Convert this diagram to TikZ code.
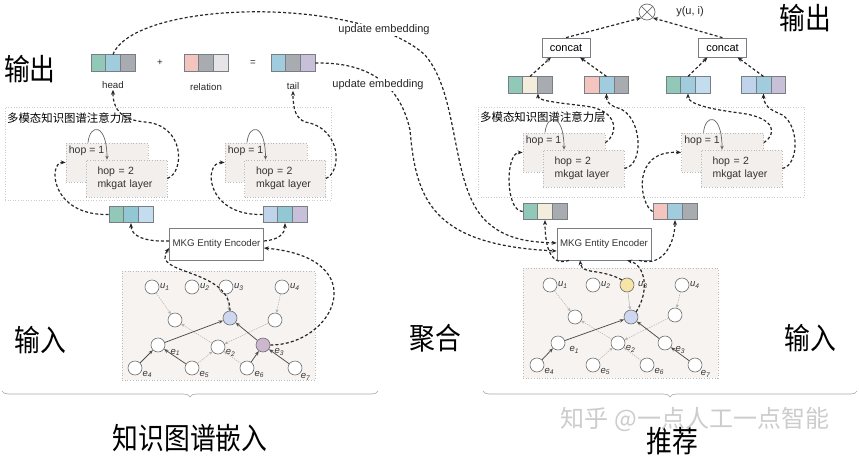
\documentclass[tikz,border=0pt]{standalone}
\usepackage{fontspec}
\setmainfont{Liberation Sans}
\newfontfamily\cjk{Noto Sans CJK SC}
\usepackage{tikz}
\usetikzlibrary{arrows.meta,positioning,decorations.pathreplacing}
\tikzset{every node/.append style={align=center}}
\definecolor{cellline}{RGB}{120,126,132}
\definecolor{nodeline}{RGB}{110,110,110}
\definecolor{tealcell}{RGB}{146,200,184}
\definecolor{bluecell}{RGB}{160,204,222}
\definecolor{graycell}{RGB}{168,171,175}
\definecolor{pinkcell}{RGB}{244,197,191}
\definecolor{lightcell}{RGB}{231,228,232}
\definecolor{lavcell}{RGB}{200,192,216}
\definecolor{tealblue}{RGB}{146,199,212}
\definecolor{paleblue}{RGB}{196,221,238}
\definecolor{bluecell2}{RGB}{191,212,235}
\definecolor{creamcell}{RGB}{245,237,219}
\definecolor{hopfill}{RGB}{243,239,236}
\definecolor{gboxfill}{RGB}{247,243,240}
\definecolor{bluenode}{RGB}{205,215,239}
\definecolor{purplenode}{RGB}{203,184,207}
\definecolor{yellownode}{RGB}{247,228,166}
\tikzset{
  cell/.style={draw=cellline, line width=0.6pt, minimum width=14.7pt, minimum height=16.5pt, inner sep=0pt},
  vnode/.style={circle, draw=nodeline, fill=white, line width=0.6pt, minimum size=14pt, inner sep=0pt, label distance=1pt},
  glbl/.style={font=\fontsize{9.5}{10}\selectfont\itshape, text=black!80, inner sep=0.5pt},
  faint/.style={draw=gray!60, line width=0.5pt, dash pattern=on 1.5pt off 1pt, -{Stealth[length=3.5pt,width=3pt]}},
  strong/.style={draw=black!70, line width=0.75pt, -{Stealth[length=4.5pt,width=3.5pt]}},
  flow/.style={draw=black!85, line width=1.2pt, dash pattern=on 3pt off 2.2pt, -{Stealth[length=5pt,width=4pt]}},
  hopbox/.style={draw=gray!55, fill=hopfill, dotted, line width=0.7pt, inner sep=0pt},
  hoptxt/.style={font=\fontsize{10.5}{13}\selectfont, text=black!80, inner sep=3pt},
  layerbox/.style={draw=gray!40, dotted, line width=0.6pt, inner sep=0pt},
  gbox/.style={draw=gray!55, fill=gboxfill, dotted, line width=0.7pt, inner sep=0pt},
  encbox/.style={draw=cellline, fill=white, line width=0.7pt, minimum width=94pt, minimum height=32pt, inner sep=1pt, font=\fontsize{9.7}{11}\selectfont, text=black!80},
  catbox/.style={draw=cellline, fill=white, line width=0.7pt, minimum width=48pt, minimum height=19pt, inner sep=1pt, font=\fontsize{11}{12}\selectfont},
  lbl/.style={font=\fontsize{9.7}{11}\selectfont, text=black!85, inner sep=1pt},
  updlbl/.style={font=\fontsize{11}{12}\selectfont, text=black!85, fill=white, inner sep=1pt},
  loopar/.style={draw=gray!80!black, line width=0.7pt, -{Stealth[length=4pt,width=3.5pt]}},
  brace/.style={draw=gray!70, line width=0.6pt, decorate, decoration={brace, mirror, amplitude=6pt}},
  cnbig/.style={font=\cjk\fontsize{30}{32}\selectfont, inner sep=0pt},
  cnsmall/.style={font=\cjk\fontsize{11.4}{12}\selectfont, inner sep=1pt},
  wmark/.style={font=\cjk\fontsize{24}{26}\selectfont, text=gray!40, inner sep=0pt}
}
\newcommand{\embvec}[5]{%
  \node[cell, fill=#4] (#1-2) at #2 {};
  \node[cell, fill=#3, left=-0.6pt of #1-2] (#1-1) {};
  \node[cell, fill=#5, right=-0.6pt of #1-2] (#1-3) {};
}
\newcommand{\cnw}[1]{\scalebox{.86}[1]{#1}}

\begin{document}
\begin{tikzpicture}[x=1pt,y=-1pt]
    \useasboundingbox (0,0) rectangle (859,458);

    % Left: attention layer
    \node[layerbox, minimum width=326pt, minimum height=93pt] (layerL) at (168,153.5) {};
    \node[cnsmall, anchor=west] (layerLt) at (6,118) {多模态知识图谱注意力层};
    \node[hopbox, minimum width=82pt, minimum height=39pt] (hopLa) at (107,162.5) {};
    \node[hoptxt, anchor=north west] (hopLat) at (hopLa.north west) {hop = 1};
    \node[hopbox, hoptxt, minimum width=81pt, minimum height=37pt, text width=58pt, align=left] (hopLb) at (126.5,178.5) {hop = 2\\mkgat layer};
    \draw[loopar] ([xshift=-19pt]hopLa.north) .. controls +(2,-20) and +(0,-36) .. ([xshift=-19.5pt]hopLb.north);
    \node[hopbox, minimum width=82pt, minimum height=39pt] (hopLc) at (266,162.5) {};
    \node[hoptxt, anchor=north west] (hopLct) at (hopLc.north west) {hop = 1};
    \node[hopbox, hoptxt, minimum width=81pt, minimum height=37pt, text width=58pt, align=left] (hopLd) at (285,178.5) {hop = 2\\mkgat layer};
    \draw[loopar] ([xshift=-19pt]hopLc.north) .. controls +(2,-20) and +(0,-36) .. ([xshift=-19.5pt]hopLd.north);

    % Left: output triple
    \embvec{head}{(113,63)}{tealcell}{bluecell}{graycell}
    \embvec{rel}{(206,63)}{pinkcell}{graycell}{lightcell}
    \embvec{tail}{(293,63)}{bluecell}{graycell}{lavcell}
    \node[lbl] (plus) at (160,63) {+};
    \node[lbl] (eq) at (253,63) {=};
    \node[lbl] (headlbl) at (113,85) {head};
    \node[lbl] (rellbl) at (206,87) {relation};
    \node[lbl] (taillbl) at (293,86) {tail};

    % Left: encoder and entity vectors
    \node[encbox] (encL) at (216.5,244) {MKG Entity Encoder};
    \embvec{vL1}{(131,214.5)}{tealcell}{tealblue}{paleblue}
    \embvec{vL2}{(285,214.5)}{bluecell2}{tealblue}{lavcell}

    % Left: knowledge graph
    \node[gbox, minimum width=193pt, minimum height=109pt] (gboxL) at (218.5,325.5) {};
    \node[vnode, label={[glbl]0:u\textsubscript{1}}] (uL1) at (152,287) {};
    \node[vnode, label={[glbl]0:u\textsubscript{2}}] (uL2) at (192,287) {};
    \node[vnode, label={[glbl]0:u\textsubscript{3}}] (uL3) at (226,287) {};
    \node[vnode, label={[glbl]0:u\textsubscript{4}}] (uL4) at (282,287) {};
    \node[vnode] (aL1) at (175,320) {};
    \node[vnode, fill=bluenode] (bL) at (230,318) {};
    \node[vnode] (aL2) at (275,320) {};
    \node[vnode, label={[glbl, label distance=5pt]-15:e\textsubscript{1}}] (eL1) at (158,345) {};
    \node[vnode, label={[glbl]-15:e\textsubscript{2}}] (eL2) at (218,347) {};
    \node[vnode, fill=purplenode, label={[glbl, label distance=4pt]-15:e\textsubscript{3}}] (eL3) at (263,345) {};
    \node[vnode, label={[glbl]-20:e\textsubscript{4}}] (eL4) at (135,368) {};
    \node[vnode, label={[glbl]-20:e\textsubscript{5}}] (eL5) at (192,368) {};
    \node[vnode, label={[glbl]-20:e\textsubscript{6}}] (eL6) at (247,368) {};
    \node[vnode, label={[glbl]-45:e\textsubscript{7}}] (eL7) at (295,368) {};
    \draw[faint] (uL1) -- (aL1);
    \draw[faint] (uL4) -- (aL2);
    \draw[faint] (eL2) -- (aL1);
    \draw[faint] (aL2) -- (eL2);
    \draw[faint] (eL5) -- (eL2);
    \draw[faint] (eL6) -- (eL2);
    \draw[faint, solid] (uL3) -- (bL);
    \draw[strong] (eL4) -- (eL1);
    \draw[strong] (eL5) -- (eL1);
    \draw[strong] (eL1) -- (bL);
    \draw[strong] (eL3) -- (bL);
    \draw[strong] (eL6) -- (eL3);
    \draw[strong] (eL7) -- (eL3);

    % Left: flows
    \draw[flow] ([yshift=3pt]encL.west) .. controls (145,242) and (131,236) .. (vL1-2.south);
    \draw[flow] ([yshift=3pt]encL.east) .. controls (278,240) and (285,234) .. (vL2-2.south);
    \draw[flow] (vL1-1.west) .. controls (50,216) and (48,162) .. (hopLa.west);
    \draw[flow] (vL2-1.west) .. controls (205,216) and (203,162) .. (hopLc.west);
    \draw[flow] (hopLb.east) .. controls (185,172) and (185,125) .. (145,122) .. controls (122,120) and (113,110) .. (headlbl.south);
    \draw[flow] (hopLd.east) .. controls (342,172) and (342,128) .. (305,122) .. controls (296,118) and (293,110) .. (taillbl.south);
    \draw[flow] (bL.north) .. controls (230,268) and (150,275) .. ([yshift=-4pt]encL.west);
    \draw[flow] (eL3.east) .. controls (335,345) and (375,258) .. ([yshift=-4pt]encL.east);

    % Right: prediction
    \node[circle, draw=nodeline, line width=0.7pt, minimum size=16pt, inner sep=0pt] (prod) at (647,12) {};
    \draw[draw=nodeline, line width=0.7pt] (prod.north west) -- (prod.south east) (prod.north east) -- (prod.south west);
    \node[lbl, font=\fontsize{11}{12}\selectfont] (ylbl) at (690,12) {y(u, i)};
    \node[catbox] (catL) at (566,47.5) {concat};
    \node[catbox] (catR) at (722.5,47.5) {concat};
    \embvec{pu}{(530,85)}{tealcell}{creamcell}{graycell}
    \embvec{pi}{(606.5,85)}{pinkcell}{bluecell}{graycell}
    \embvec{qu}{(688,85)}{tealcell}{bluecell}{paleblue}
    \embvec{qi}{(763.5,85)}{bluecell2}{bluecell}{lavcell}
    \draw[flow] (pu-2.north) -- ([xshift=-15pt]catL.south);
    \draw[flow] (pi-2.north) -- ([xshift=14pt]catL.south);
    \draw[flow] (qu-2.north) -- ([xshift=-15pt]catR.south);
    \draw[flow] (qi-2.north) -- ([xshift=15pt]catR.south);
    \draw[flow] (catL.north) -- (prod.south west);
    \draw[flow] (catR.north) -- (prod.south east);

    % Right: attention layer
    \node[layerbox, minimum width=326pt, minimum height=90pt] (layerR) at (641,152) {};
    \node[cnsmall, anchor=west] (layerRt) at (479,117) {多模态知识图谱注意力层};
    \node[hopbox, minimum width=82pt, minimum height=39pt] (hopRa) at (564,152.5) {};
    \node[hoptxt, anchor=north west] (hopRat) at (hopRa.north west) {hop = 1};
    \node[hopbox, hoptxt, minimum width=81pt, minimum height=37pt, text width=58pt, align=left] (hopRb) at (583.5,168.5) {hop = 2\\mkgat layer};
    \draw[loopar] ([xshift=-19pt]hopRa.north) .. controls +(2,-20) and +(0,-36) .. ([xshift=-19.5pt]hopRb.north);
    \node[hopbox, minimum width=82pt, minimum height=39pt] (hopRc) at (722.5,152.5) {};
    \node[hoptxt, anchor=north west] (hopRct) at (hopRc.north west) {hop = 1};
    \node[hopbox, hoptxt, minimum width=81pt, minimum height=37pt, text width=58pt, align=left] (hopRd) at (741.5,168.5) {hop = 2\\mkgat layer};
    \draw[loopar] ([xshift=-19pt]hopRc.north) .. controls +(2,-20) and +(0,-36) .. ([xshift=-19.5pt]hopRd.north);
    \draw[flow] ([yshift=-10pt]hopRa.north east) .. controls (618,135) and (620,110) .. (585,106) .. controls (550,102) and (538,100) .. ([xshift=8pt]pu-2.south);
    \draw[flow] (hopRb.east) .. controls (645,165) and (642,115) .. (618,108) .. controls (608,105) and (606.5,100) .. (pi-2.south);
    \draw[flow] ([yshift=-10pt]hopRc.north east) .. controls (776,135) and (778,118) .. (740,113) .. controls (700,108) and (688,102) .. (qu-2.south);
    \draw[flow] (hopRd.east) .. controls (800,165) and (800,120) .. (778,113) .. controls (766,108) and (763.5,102) .. (qi-2.south);

    % Right: encoder and entity vectors
    \node[encbox] (encR) at (604,244) {MKG Entity Encoder};
    \embvec{vR1}{(545,211.5)}{tealcell}{creamcell}{graycell}
    \embvec{vR2}{(675,211.5)}{pinkcell}{bluecell}{graycell}
    \draw[flow] (vR1-1.west) .. controls (505,211) and (505,152) .. (hopRa.west);
    \draw[flow] (vR2-1.west) .. controls (640,205) and (630,150) .. (hopRc.west);

    % Right: knowledge graph
    \node[gbox, minimum width=195pt, minimum height=110pt] (gboxR) at (620.5,323) {};
    \node[vnode, label={[glbl]0:u\textsubscript{1}}] (uR1) at (550,285) {};
    \node[vnode, label={[glbl]0:u\textsubscript{2}}] (uR2) at (593,285) {};
    \node[vnode, fill=yellownode, label={[glbl, label distance=3pt]0:u\textsubscript{3}}] (uR3) at (627,285) {};
    \node[vnode, label={[glbl]0:u\textsubscript{4}}] (uR4) at (682,285) {};
    \node[vnode] (aR1) at (575,317) {};
    \node[vnode, fill=bluenode] (bR) at (631,317) {};
    \node[vnode] (aR2) at (675,315) {};
    \node[vnode, label={[glbl, label distance=4pt]-15:e\textsubscript{1}}] (eR1) at (558,343) {};
    \node[vnode, label={[glbl]-15:e\textsubscript{2}}] (eR2) at (618,343) {};
    \node[vnode, label={[glbl, label distance=3pt]-15:e\textsubscript{3}}] (eR3) at (665,343) {};
    \node[vnode, label={[glbl]-20:e\textsubscript{4}}] (eR4) at (537,365) {};
    \node[vnode, label={[glbl]-20:e\textsubscript{5}}] (eR5) at (593,365) {};
    \node[vnode, label={[glbl]-20:e\textsubscript{6}}] (eR6) at (647,365) {};
    \node[vnode, label={[glbl]-45:e\textsubscript{7}}] (eR7) at (695,365) {};
    \draw[faint] (uR1) -- (aR1);
    \draw[faint] (uR4) -- (aR2);
    \draw[faint] (eR2) -- (aR1);
    \draw[faint] (aR2) -- (eR2);
    \draw[faint] (eR5) -- (eR2);
    \draw[faint] (eR6) -- (eR2);
    \draw[faint, solid] (uR3) -- (bR);
    \draw[strong] (eR4) -- (eR1);
    \draw[strong] (eR1) -- (bR);
    \draw[strong] (eR3) -- (bR);
    \draw[strong] (eR7) -- (eR3);

    % Right: flows
    \draw[flow] ([xshift=-35pt]encR.south) .. controls (548,268) and (545,240) .. (vR1-2.south);
    \draw[flow] ([xshift=35pt]encR.south) .. controls (665,268) and (675,240) .. (vR2-2.south);
    \draw[flow] (uR3.north west) .. controls (600,268) and (582,275) .. ([xshift=-24pt]encR.south);
    \draw[flow] (bR.north east) .. controls (650,290) and (645,265) .. ([xshift=23pt]encR.south);

    % Update embedding
    \draw[flow] (head-2.north) .. controls (135,0) and (360,-5) .. (425,55) .. controls (460,95) and (450,185) .. (485,220) .. controls (505,240) and (530,242) .. ([yshift=1pt]encR.west);
    \draw[flow] (tail-3.east) .. controls (370,62) and (400,85) .. (410,130) .. controls (416,200) and (432,245) .. ([yshift=-7pt]encR.west);
    \node[updlbl] (upd1) at (384,30) {update embedding};
    \node[updlbl] (upd2) at (378,85) {update embedding};

    % Side titles
    \node[cnbig] (outL) at (30,69) {\cnw{输出}};
    \node[cnbig] (outR) at (805,18) {\cnw{输出}};
    \node[cnbig] (inL) at (40,340) {\cnw{输入}};
    \node[cnbig] (agg) at (435,338) {\cnw{聚合}};
    \node[cnbig] (inR) at (810,338) {\cnw{输入}};

    % Braces and captions
    \draw[brace] (2,391) -- (378,391);
    \draw[brace] (483,391) -- (857,391);
    \node[cnbig] (kge) at (190,438) {\cnw{知识图谱嵌入}};
    \node[cnbig] (rec) at (672,441) {\cnw{推荐}};
    \node[wmark] (wm) at (695,419) {知乎 @一点人工一点智能};
\end{tikzpicture}
\end{document}
